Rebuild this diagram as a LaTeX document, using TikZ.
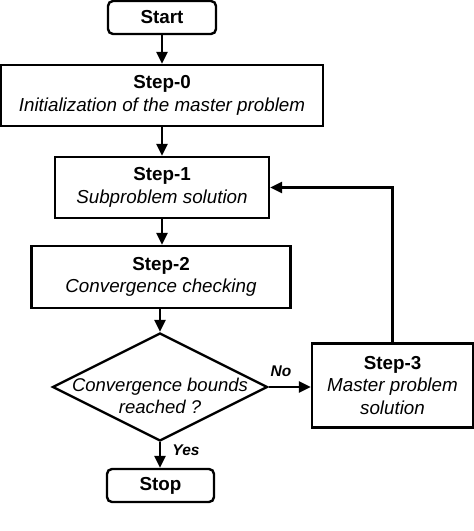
\documentclass[tikz,border=0pt]{standalone}
\usepackage{fontspec}
\setmainfont{Liberation Sans}
\usetikzlibrary{arrows.meta,shapes.geometric}
\tikzset{
  box/.style={draw, line width=2.4pt, rectangle, inner sep=0pt, align=center,
    font=\fontsize{18.8}{22.5}\selectfont},
  term/.style={box, rounded corners=5pt},
  dia/.style={draw, line width=2.4pt, diamond, inner sep=0pt, minimum width=215pt, minimum height=108pt},
  txt/.style={align=center, inner sep=0pt, font=\fontsize{18.5}{22}\selectfont},
  lab/.style={inner sep=0pt, font=\fontsize{15.5}{18}\selectfont\bfseries\itshape},
  arr/.style={line width=2.4pt, -{Triangle[length=12pt,width=11pt]}},
}
\begin{document}
\begin{tikzpicture}[x=1pt,y=-1pt]
\useasboundingbox (0,0) rectangle (474,531);
\node[term, minimum width=108pt, minimum height=33pt] (start) at (162,17.5) {\textbf{Start}};
\node[box, minimum width=322pt, minimum height=61pt] (s0) at (162,95.5) {\textbf{Step-0}\\\textit{Initialization of the master problem}};
\node[box, minimum width=214pt, minimum height=61pt] (s1) at (162,187.5) {\textbf{Step-1}\\\textit{Subproblem solution}};
\node[box, minimum width=259pt, minimum height=62pt] (s2) at (161,277) {\textbf{Step-2}\\\textit{Convergence checking}};
\node[dia] (d) at (160,387) {};
\node[txt] (dt) at (160,396) {\textit{Convergence bounds}\\\textit{reached ?}};
\node[box, minimum width=161pt, minimum height=84pt] (s3) at (392.5,385.5) {\textbf{Step-3}\\\textit{Master problem}\\\textit{solution}};
\node[term, minimum width=107pt, minimum height=33pt] (stop) at (160.5,485.5) {\textbf{Stop}};
\node[lab] (no) at (281,371) {No};
\node[lab] (yes) at (186,450) {Yes};
\draw[arr] (start.south) -- (start.south |- s0.north);
\draw[arr] (s0.south) -- (s0.south |- s1.north);
\draw[arr] (s1.south) -- (s1.south |- s2.north);
\draw[arr] (d.north |- s2.south) -- (d.north);
\draw[arr] (d.south) -- (d.south |- stop.north);
\draw[arr] (d.east) -- (d.east -| s3.west);
\draw[arr] (s3.north) |- (s1.east);
\end{tikzpicture}
\end{document}
